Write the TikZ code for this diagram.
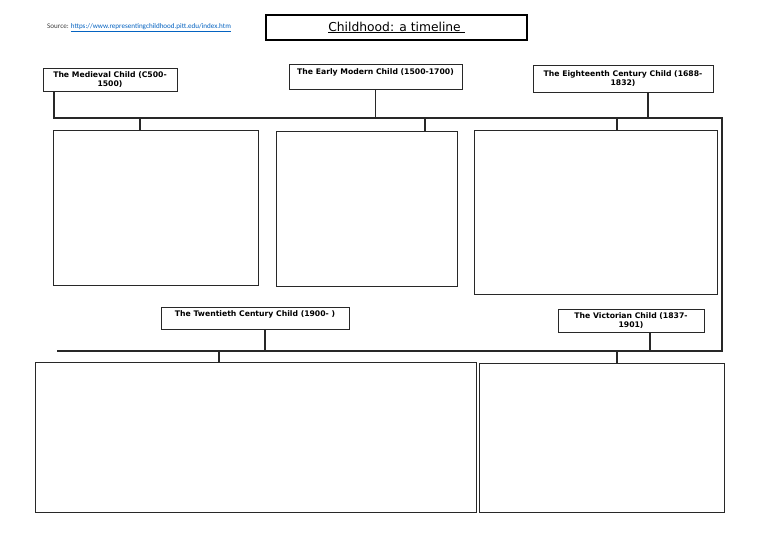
\documentclass[tikz,border=0pt]{standalone}
\usepackage{fontspec}
\setmainfont{DejaVu Sans}
\newfontfamily\srcfont{Carlito}
\usepackage{tikz}
\usetikzlibrary{positioning,calc}
\usepackage{xcolor}
\definecolor{linkblue}{RGB}{5,99,193}
\definecolor{edge}{RGB}{40,40,40}

\begin{document}
\begin{tikzpicture}[x=1pt,y=-1pt,
  lbl/.style={draw=edge,line width=0.9pt,inner sep=1pt,align=center,font=\fontsize{7.7}{9.4}\selectfont\bfseries},
  panel/.style={draw=edge,line width=0.9pt,inner sep=0pt,anchor=north west},
  bus/.style={edge,line width=1.1pt}]
\useasboundingbox[fill=white] (0,0) rectangle (768,543);
\node (src) [anchor=west,inner sep=0pt,font=\srcfont\fontsize{7.1}{8.5}\selectfont] at (47,27.5)
  {\textcolor{black!75}{Source:} \textcolor{linkblue}{\underline{https://www.representingchildhood.pitt.edu/index.htm}}};
\node (title) [draw=black,line width=1.5pt,minimum width=261pt,minimum height=25pt,font=\fontsize{12.3}{14}\selectfont] at (396.5,27.5)
  {\underline{Childhood: a timeline\ }};
% period labels
\node (med) [lbl,minimum width=134pt,minimum height=23pt] at (110,79.5) {The Medieval Child (C500-\\1500)};
\node (early) [lbl,minimum width=173pt,minimum height=25pt,text depth=9pt] at (375.5,76.5) {The Early Modern Child (1500-1700)};
\node (eight) [lbl,minimum width=180pt,minimum height=27pt] at (623,78.5) {The Eighteenth Century Child (1688-\\1832)};
\node (twen) [lbl,minimum width=188pt,minimum height=22pt,text depth=8pt] at (255,318) {The Twentieth Century Child (1900- )};
\node (vic) [lbl,minimum width=146pt,minimum height=23pt] at (631,320.5) {The Victorian Child (1837-\\1901)};
% empty panels
\node (p1) [panel,minimum width=205pt,minimum height=155pt] at (53,130) {};
\node (p2) [panel,minimum width=181pt,minimum height=155pt] at (276,131) {};
\node (p3) [panel,minimum width=243pt,minimum height=164pt] at (474,130) {};
\node (p4) [panel,minimum width=441pt,minimum height=150pt] at (35,362) {};
\node (p5) [panel,minimum width=245pt,minimum height=149pt] at (479,363) {};
% bus lines
\coordinate (tl) at (54,118); \coordinate (tr) at (722,118);
\coordinate (bl) at (57,351); \coordinate (br) at (722,351);
\draw[bus] (tl |- med.south) -- (tl) -- (tr) -- (br) -- (bl);
\draw[bus] (early.south) -- (early.south |- tl);
\draw[bus] ($(eight.south)+(25,0)$) -- ($(eight.south |- tl)+(25,0)$);
\draw[bus] ($(twen.south)+(10,0)$) -- ($(twen.south |- bl)+(10,0)$);
\draw[bus] ($(vic.south)+(19,0)$) -- ($(vic.south |- bl)+(19,0)$);
% ticks down to panels
\draw[bus] (140,118) -- (140,118 |- p1.north);
\draw[bus] (425,118) -- (425,118 |- p2.north);
\draw[bus] (617,118) -- (617,118 |- p3.north);
\draw[bus] (219,351) -- (219,351 |- p4.north);
\draw[bus] (617,351) -- (617,351 |- p5.north);
\end{tikzpicture}
\end{document}
